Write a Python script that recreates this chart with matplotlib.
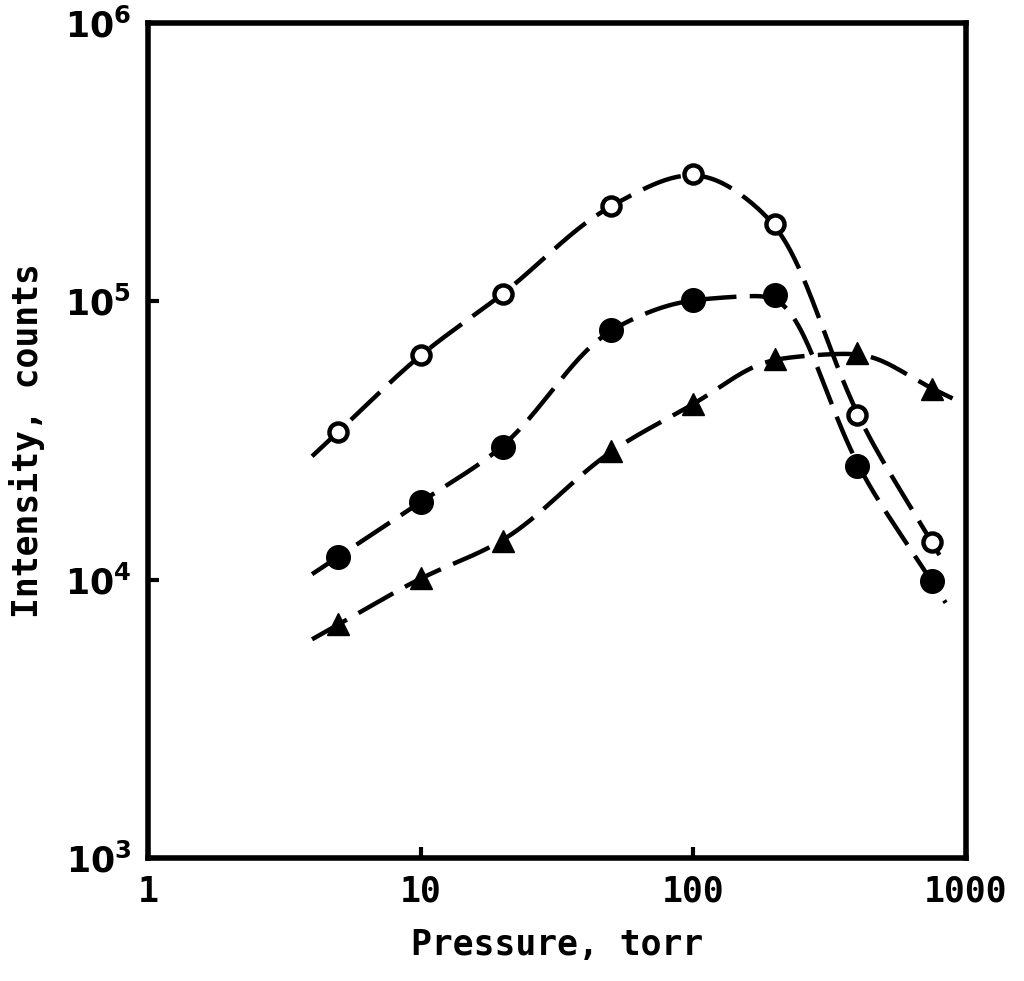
import numpy as np
import matplotlib
matplotlib.use("Agg")
import matplotlib.pyplot as plt
from matplotlib.ticker import FixedLocator, FixedFormatter, NullLocator

# datos
presion = [5, 10, 20, 50, 100, 200, 400, 750]
abiertos = [3.4e4, 6.4e4, 1.06e5, 2.2e5, 2.87e5, 1.9e5, 3.9e4, 1.37e4]
llenos = [1.21e4, 1.9e4, 3.0e4, 7.9e4, 1.01e5, 1.05e5, 2.57e4, 9.9e3]
triangulos = [6.9e3, 1.01e4, 1.38e4, 2.89e4, 4.26e4, 6.2e4, 6.5e4, 4.86e4]

x_ticks = [1, 10, 100, 1000]
x_labels = ["1", "10", "100", "1000"]
y_ticks = [1e3, 1e4, 1e5, 1e6]
y_labels = [r"$\mathbf{10^{3}}$", r"$\mathbf{10^{4}}$", r"$\mathbf{10^{5}}$", r"$\mathbf{10^{6}}$"]

plt.rcParams["font.family"] = ["DejaVu Sans Mono"]
plt.rcParams["font.weight"] = "bold"
plt.rcParams["mathtext.fontset"] = "custom"
plt.rcParams["mathtext.bf"] = "DejaVu Sans:bold"
plt.rcParams["mathtext.rm"] = "DejaVu Sans:bold"


def pchip(x, y, xn):
    # interpolación cúbica monótona (Fritsch-Carlson)
    h = np.diff(x)
    d = np.diff(y) / h
    m = np.zeros_like(y)
    for i in range(1, len(x) - 1):
        if d[i - 1] * d[i] > 0:
            w1 = 2 * h[i] + h[i - 1]
            w2 = h[i] + 2 * h[i - 1]
            m[i] = (w1 + w2) / (w1 / d[i - 1] + w2 / d[i])
    m[0] = d[0]
    m[-1] = d[-1]
    idx = np.clip(np.searchsorted(x, xn) - 1, 0, len(x) - 2)
    t = (xn - x[idx]) / h[idx]
    h00 = 2 * t ** 3 - 3 * t ** 2 + 1
    h10 = t ** 3 - 2 * t ** 2 + t
    h01 = -2 * t ** 3 + 3 * t ** 2
    h11 = t ** 3 - t ** 2
    return h00 * y[idx] + h10 * h[idx] * m[idx] + h01 * y[idx + 1] + h11 * h[idx] * m[idx + 1]


def curva_suave(xs, ys, x_ini, x_fin, sigma=0.05):
    lx = np.log10(np.array(xs, dtype=float))
    ly = np.log10(np.array(ys, dtype=float))
    paso = 0.005
    xn = np.arange(np.log10(x_ini) - 0.4, np.log10(x_fin) + 0.4, paso)
    yn = pchip(lx, ly, xn)
    s0 = (ly[1] - ly[0]) / (lx[1] - lx[0])
    s1 = (ly[-1] - ly[-2]) / (lx[-1] - lx[-2])
    yn = np.where(xn < lx[0], ly[0] + s0 * (xn - lx[0]), yn)
    yn = np.where(xn > lx[-1], ly[-1] + s1 * (xn - lx[-1]), yn)
    # suavizado gaussiano para redondear los quiebres
    k = np.arange(-4 * sigma, 4 * sigma + paso, paso)
    ker = np.exp(-0.5 * (k / sigma) ** 2)
    ker /= ker.sum()
    ys_suave = np.convolve(yn, ker, mode="same")
    ok = (xn >= np.log10(x_ini)) & (xn <= np.log10(x_fin))
    return 10 ** xn[ok], 10 ** ys_suave[ok]


fig = plt.figure(figsize=(10.24, 9.81), dpi=100)
ax = fig.add_axes([0.1445, 0.1254, 0.7985, 0.8512])

series = [
    (abiertos, dict(marker="o", mfc="white", mec="black", ms=13, mew=3.2), 850),
    (llenos, dict(marker="o", mfc="black", mec="black", ms=17), 850),
    (triangulos, dict(marker="^", mfc="black", mec="black", ms=16), 900),
]

for datos, estilo, fin in series:
    cx, cy = curva_suave(presion, datos, 4.0, fin)
    ax.plot(cx, cy, color="black", lw=3.2, dashes=(9, 3), zorder=2)
    ax.plot(presion, datos, linestyle="none", zorder=3, **estilo)

ax.set_xscale("log")
ax.set_yscale("log")
ax.set_xlim(1, 1000)
ax.set_ylim(1e3, 1e6)

ax.xaxis.set_major_locator(FixedLocator(x_ticks))
ax.xaxis.set_major_formatter(FixedFormatter(x_labels))
ax.xaxis.set_minor_locator(NullLocator())
ax.yaxis.set_major_locator(FixedLocator(y_ticks))
ax.yaxis.set_major_formatter(FixedFormatter(y_labels))
ax.yaxis.set_minor_locator(NullLocator())

ax.tick_params(direction="in", length=8, width=3, labelsize=25, pad=12)
for lab in ax.get_xticklabels():
    lab.set_fontweight("bold")

for s in ax.spines.values():
    s.set_linewidth(4)

ax.set_xlabel("Pressure, torr", fontsize=25, fontweight="bold", labelpad=14)
ax.set_ylabel("Intensity, counts", fontsize=25, fontweight="bold", labelpad=14)

fig.savefig("out.png", dpi=100)
